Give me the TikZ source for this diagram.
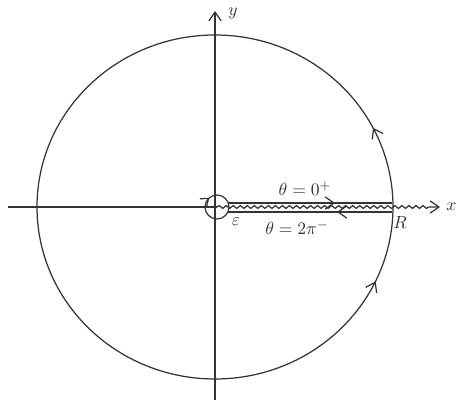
\documentclass[tikz,border=0pt]{standalone}
\usetikzlibrary{arrows.meta,decorations.pathmorphing,decorations.markings}

\tikzset{
  pen/.style={line width=0.7pt, black!80},
  tip/.style={-{Straight Barb[length=5pt,width=7pt]}},
  wiggle/.style={decorate, decoration={snake, amplitude=0.8pt, segment length=4pt, post length=6pt}},
}

\begin{document}
\begin{tikzpicture}[x=0.02cm, y=0.02cm, pen]
  \useasboundingbox (-215,-198) rectangle (259,207);
  \coordinate (O) at (2,0);
  % axes
  \draw (-207,0) -- (O);
  \draw[tip, wiggle] (O) -- (225,0) coordinate (xend);
  \draw[tip] (0,-193) -- (0,196) coordinate (yend);
  \node[anchor=west] at (xend) {$x$};
  \node[anchor=south west] at ([xshift=4pt,yshift=-8pt]yend) {$y$};
  % big contour, counterclockwise
  \draw[postaction={decorate}, decoration={markings,
      mark=at position 0.075 with {\arrow{Straight Barb[length=5pt,width=7pt]}},
      mark=at position 0.93 with {\arrow{Straight Barb[length=5pt,width=7pt]}}}]
    (0,0) ellipse [x radius=178, y radius=172];
  % small circle round the origin, clockwise
  \draw[postaction={decorate}, decoration={markings,
      mark=at position 0.36 with {\arrowreversed{Straight Barb[length=4pt,width=6pt]}}}]
    (O) circle [radius=12];
  % the two sides of the cut
  \coordinate (a1) at (13,4);   \coordinate (a2) at (177,4);
  \coordinate (b1) at (177,-5); \coordinate (b2) at (13,-5);
  \draw (a1) -- (a2);
  \draw[tip] (a1) -- (120,4);
  \draw (b1) -- (b2);
  \draw[tip] (b1) -- (122,-5);
  % labels
  \node at (90,18) {$\theta=0^+$};
  \node at (82,-21) {$\theta=2\pi^-$};
  \node at (21,-15) {$\varepsilon$};
  \node at (185,-16) {$R$};
\end{tikzpicture}
\end{document}
